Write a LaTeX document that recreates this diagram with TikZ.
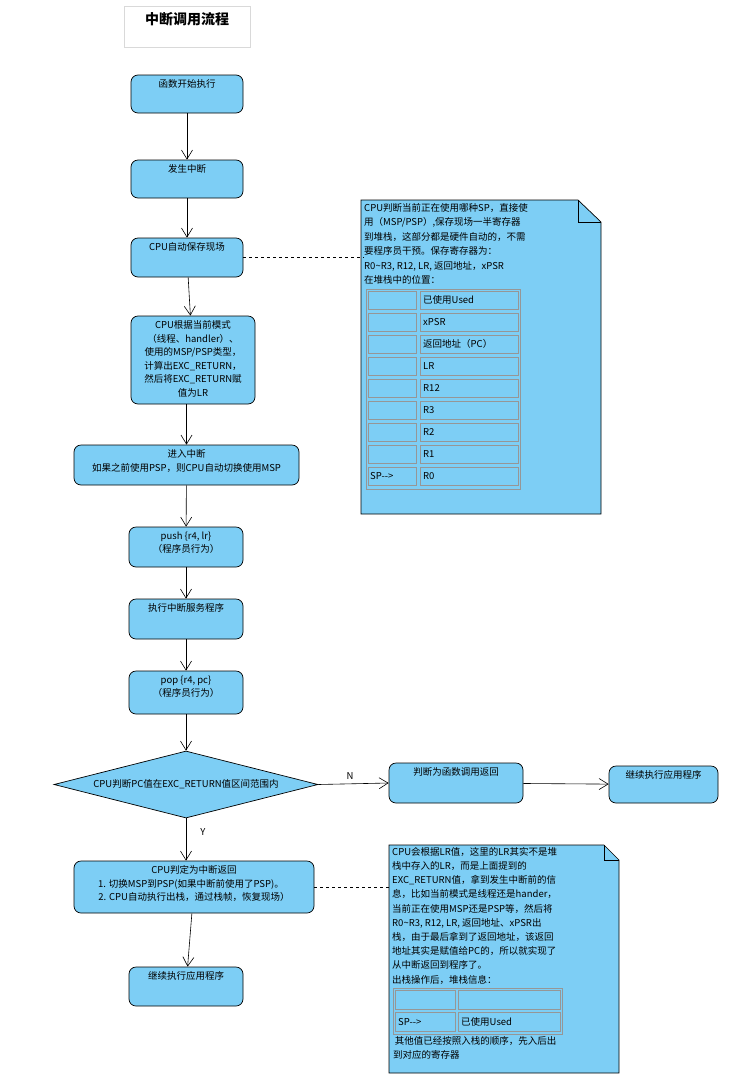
\documentclass[tikz,border=0pt]{standalone}
\usepackage{fontspec}
\setmainfont{Noto Sans CJK SC}
\usetikzlibrary{arrows.meta,shapes.geometric}
\definecolor{fb}{RGB}{125,206,245}
\definecolor{tg}{RGB}{150,150,150}
\begin{document}
\begin{tikzpicture}[x=1pt,y=-1pt,font=\fontsize{9.5}{13.5}\selectfont,
 box/.style={draw=black,fill=fb,rounded corners=7pt,line width=0.7pt,inner sep=0pt},
 lbl/.style={anchor=north,align=center,inner sep=0pt},
 arr/.style={-{Straight Barb[length=9pt,width=11pt]},line width=0.6pt},
 dsh/.style={dashed,line width=0.6pt},
 cell/.style={draw=tg,line width=0.6pt}]
\useasboundingbox (0,0) rectangle (731,1082);
\node[draw=black!15,minimum width=126pt,minimum height=41pt,inner sep=0pt] (t) at (187,26.5) {};
\node[anchor=north,font=\fontsize{14}{16}\selectfont\bfseries] at (187,9) {中断调用流程};
\newcommand\bx[6]{\node[box,minimum width=#4pt,minimum height=#5pt] (#1) at (#2,#3) {};
 \node[lbl] at ([yshift=-5pt]#1.north) {#6};}
\bx{b1}{187}{94}{112}{38}{函数开始执行}
\bx{b2}{187}{179}{112}{38}{发生中断}
\bx{b3}{187}{257.5}{112}{39}{CPU自动保存现场}
\bx{b4}{193}{360}{124}{88}{CPU根据当前模式\\（线程、handler）、\\使用的MSP/PSP类型，\\计算出EXC\_RETURN，\\然后将EXC\_RETURN赋\\值为LR}
\bx{b5}{186.5}{465}{225}{40}{进入中断\\如果之前使用PSP，则CPU自动切换使用MSP}
\bx{b6}{186}{547}{114}{40}{push \{r4, lr\}\\（程序员行为）}
\bx{b7}{186}{619}{114}{40}{执行中断服务程序}
\bx{b8}{186}{692.5}{114}{43}{pop \{r4, pc\}\\（程序员行为）}
\node[diamond,draw=black,fill=fb,line width=0.7pt,minimum width=264pt,minimum height=67pt,aspect=3.9,inner sep=0pt] (d) at (186,784.5) {};
\node at (d.center) {CPU判断PC值在EXC\_RETURN值区间范围内};
\bx{b9}{456}{783}{134}{40}{判断为函数调用返回}
\bx{b10}{663.5}{784.5}{109}{37}{继续执行应用程序}
\bx{b11}{194}{887}{240}{52}{CPU判定为中断返回\\\hspace*{-6pt}1. 切换MSP到PSP(如果中断前使用了PSP)。\\2. CPU自动执行出栈，通过栈帧，恢复现场）}
\bx{b12}{186}{986.5}{114}{39}{继续执行应用程序}
\foreach \a/\b in {b1/b2,b2/b3,b3/b4,b5/b6,b6/b7,b7/b8,b8/d,b9/b10,b11/b12} \draw[arr] (\a) -- (\b);
\draw[arr] (b4.south -| b5.north) ++(0,0) coordinate (c4) -- (b5.north);
\draw[arr] (d.east) -- (b9.west);
\draw[arr] (d.south) -- (b11.north -| d.south);
\node at (350,776) {N};
\node at (203,832) {Y};
% note 1
\coordinate (n1) at (361,200);
\draw[fill=fb,line width=0.7pt] (361,200) -- (578,200) -- (601,222) -- (601,514) -- (361,514) -- cycle;
\draw[line width=0.7pt] (578,200) -- (578,222) -- (601,222);
\node[anchor=north west,align=left,inner sep=0pt,font=\fontsize{9.5}{14.5}\selectfont] (note1) at (364,203) {CPU判断当前正在使用哪种SP，直接使\\用（MSP/PSP）,保存现场一半寄存器\\到堆栈，这部分都是硬件自动的，不需\\要程序员干预。保存寄存器为：\\R0\textasciitilde R3, R12, LR, 返回地址，xPSR\\在堆栈中的位置：};
\draw[cell] (366,289) rectangle (520,489);
\foreach \i/\l/\r in {0//已使用Used,1//xPSR,2//返回地址（PC）,3//LR,4//R12,5//R3,6//R2,7//R1,8/SP-{}->/R0}{
 \draw[cell] (368,291+22*\i) rectangle (416,309+22*\i);
 \draw[cell] (420,291+22*\i) rectangle (518,309+22*\i);
 \node[anchor=west,inner sep=0pt] at (370,300+22*\i) {\l};
 \node[anchor=west,inner sep=0pt] at (423,300+22*\i) {\r};}
\draw[dsh] (b3.east) -- (note1.west |- b3.east) coordinate (e1);
% note 2
\draw[fill=fb,line width=0.7pt] (389,845) -- (604,845) -- (619,860) -- (619,1073) -- (389,1073) -- cycle;
\draw[line width=0.7pt] (604,845) -- (604,860) -- (619,860);
\node[anchor=north west,align=left,inner sep=0pt,font=\fontsize{9.5}{14.2}\selectfont] (note2) at (392,847) {CPU会根据LR值，这里的LR其实不是堆\\栈中存入的LR，而是上面提到的\\EXC\_RETURN值，拿到发生中断前的信\\息，比如当前模式是线程还是hander，\\当前正在使用MSP还是PSP等，然后将\\R0\textasciitilde R3, R12, LR, 返回地址、xPSR出\\栈，由于最后拿到了返回地址，该返回\\地址其实是赋值给PC的，所以就实现了\\从中断返回到程序了。\\出栈操作后，堆栈信息：};
\draw[cell] (393,988) rectangle (562,1034);
\foreach \i/\l/\r in {0//,1/SP-{}->/已使用Used}{
 \draw[cell] (395,990+22*\i) rectangle (455,1009+22*\i);
 \draw[cell] (458,990+22*\i) rectangle (560,1009+22*\i);
 \node[anchor=west,inner sep=0pt] at (398,1000+22*\i) {\l};
 \node[anchor=west,inner sep=0pt] at (461,1000+22*\i) {\r};}
\node[anchor=north west,align=left,inner sep=0pt,font=\fontsize{9.5}{14.2}\selectfont] at (393,1036) {\,其他值已经按照入栈的顺序，先入后出\\到对应的寄存器};
\draw[dsh] (b11.east) -- (389,887) coordinate (e2);
\end{tikzpicture}
\end{document}
